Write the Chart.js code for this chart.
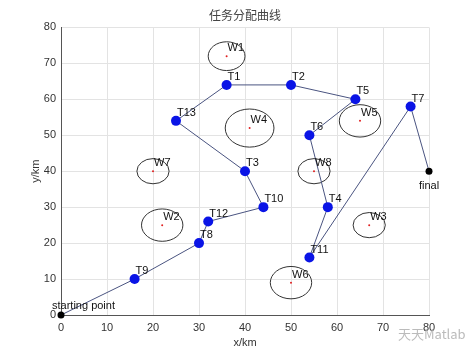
<!DOCTYPE html>
<html>
<head>
<meta charset="utf-8">
<script src="https://cdn.jsdelivr.net/npm/chart.js@4"></script>
<style>
  html, body { margin: 0; padding: 0; background: #fff; }
  #wrap { width: 474px; height: 355px; }
</style>
</head>
<body>
<div id="wrap"><canvas id="route-chart" width="474" height="355"></canvas></div>
<script>
// route order, from start to final
const pathLabels = ['starting point', 'T9', 'T8', 'T12', 'T10', 'T3', 'T13', 'T1', 'T2', 'T5', 'T6', 'T4', 'T11', 'T7', 'final'];
const pathX = [0, 16, 30, 32, 44, 40, 25, 36, 50, 64, 54, 58, 54, 76, 80];
const pathY = [0, 10, 20, 26, 30, 40, 54, 64, 64, 60, 50, 30, 16, 58, 40];

// threat zones
const zoneLabels = ['W1', 'W2', 'W3', 'W4', 'W5', 'W6', 'W7', 'W8'];
const zoneX = [36, 22, 67, 41, 65, 50, 20, 55];
const zoneY = [72, 25, 25, 52, 54, 9, 40, 40];
const zoneR = [4, 4.5, 3.5, 5.3, 4.5, 4.5, 3.5, 3.5];

const xTicks = [0, 10, 20, 30, 40, 50, 60, 70, 80];
const yTicks = [0, 10, 20, 30, 40, 50, 60, 70, 80];

const pathPoints = pathX.map((x, i) => ({ x: x, y: pathY[i] }));
const zonePoints = zoneX.map((x, i) => ({ x: x, y: zoneY[i] }));
const lastIdx = pathPoints.length - 1;

const zoneCircles = {
    id: 'zoneCircles',
    beforeDatasetsDraw(chart) {
        const { ctx, scales: { x, y } } = chart;
        ctx.save();
        ctx.strokeStyle = '#333';
        ctx.lineWidth = 1;
        zonePoints.forEach((p, i) => {
            const cx = x.getPixelForValue(p.x);
            const cy = y.getPixelForValue(p.y);
            const rx = Math.abs(x.getPixelForValue(p.x + zoneR[i]) - cx);
            const ry = Math.abs(y.getPixelForValue(p.y + zoneR[i]) - cy);
            ctx.beginPath();
            ctx.ellipse(cx, cy, rx, ry, 0, 0, Math.PI * 2);
            ctx.stroke();
        });
        ctx.restore();
    }
};

const pointLabels = {
    id: 'pointLabels',
    afterDatasetsDraw(chart) {
        const { ctx, scales: { x, y } } = chart;
        ctx.save();
        ctx.font = '11px "Liberation Sans", Arial, sans-serif';
        ctx.fillStyle = '#111';
        ctx.textBaseline = 'middle';
        ctx.textAlign = 'left';
        pathPoints.forEach((p, i) => {
            let px = x.getPixelForValue(p.x);
            let py = y.getPixelForValue(p.y);
            if (i === 0) { px -= 9; py -= 9; }
            else if (i === lastIdx) { px -= 10; py += 15; }
            else { px += 1; py -= 8; }
            ctx.fillText(pathLabels[i], px, py);
        });
        zonePoints.forEach((p, i) => {
            ctx.fillText(zoneLabels[i], x.getPixelForValue(p.x) + 1, y.getPixelForValue(p.y) - 8);
        });
        // watermark
        ctx.font = '13px "Noto Sans CJK SC", sans-serif';
        ctx.fillStyle = 'rgba(175,175,175,0.85)';
        ctx.fillText('天天Matlab', 398, 334);
        ctx.restore();
    }
};

const context = document.getElementById('route-chart').getContext('2d');

const chartRoute = new Chart(context, {
    type: 'scatter',
    data: {
        datasets: [{
            label: 'route',
            data: pathPoints,
            showLine: true,
            clip: false,
            borderColor: '#4a5480',
            borderWidth: 1,
            pointRadius: pathPoints.map((p, i) => (i === 0 || i === lastIdx) ? 3.5 : 5),
            pointBackgroundColor: pathPoints.map((p, i) => (i === 0 || i === lastIdx) ? '#000' : '#0a14e6'),
            pointBorderColor: pathPoints.map((p, i) => (i === 0 || i === lastIdx) ? '#000' : '#0a14e6'),
            pointBorderWidth: 0,
            order: 1
        }, {
            label: 'zone centre',
            data: zonePoints,
            clip: false,
            pointRadius: 1,
            pointBackgroundColor: '#e02020',
            pointBorderWidth: 0,
            order: 2
        }]
    },
    options: {
        responsive: false,
        animation: false,
        layout: { padding: { left: 0, right: 45, top: 0, bottom: 0 } },
        plugins: {
            legend: { display: false },
            tooltip: { enabled: false },
            title: {
                display: true,
                text: '任务分配曲线',
                fullSize: false,
                color: '#444',
                font: { family: '"Noto Sans CJK SC", sans-serif', size: 12, weight: 'normal' },
                padding: { top: 8, bottom: 5 }
            }
        },
        scales: {
            x: {
                type: 'linear',
                min: 0,
                max: 80,
                afterBuildTicks: (scale) => { scale.ticks = xTicks.map(v => ({ value: v })); },
                afterFit: (scale) => { scale.height = 40; },
                ticks: { color: '#333', padding: 6, font: { family: '"Liberation Sans", Arial', size: 11 } },
                grid: { color: '#e3e3e3', drawTicks: false },
                border: { color: '#555', width: 1 },
                title: {
                    display: true, text: 'x/km', color: '#333',
                    font: { family: '"Liberation Sans", Arial', size: 11 },
                    padding: { top: 0, bottom: 5 }
                }
            },
            y: {
                type: 'linear',
                min: 0,
                max: 80,
                afterBuildTicks: (scale) => { scale.ticks = yTicks.map(v => ({ value: v })); },
                afterFit: (scale) => { scale.width = 61; },
                ticks: { color: '#333', padding: 5, font: { family: '"Liberation Sans", Arial', size: 11 } },
                grid: { color: '#e3e3e3', drawTicks: false },
                border: { color: '#555', width: 1 },
                title: {
                    display: true, text: 'y/km', color: '#333',
                    font: { family: '"Liberation Sans", Arial', size: 11 },
                    padding: { top: 29, bottom: 0 }
                }
            }
        }
    },
    plugins: [zoneCircles, pointLabels]
});
</script>
</body>
</html>
